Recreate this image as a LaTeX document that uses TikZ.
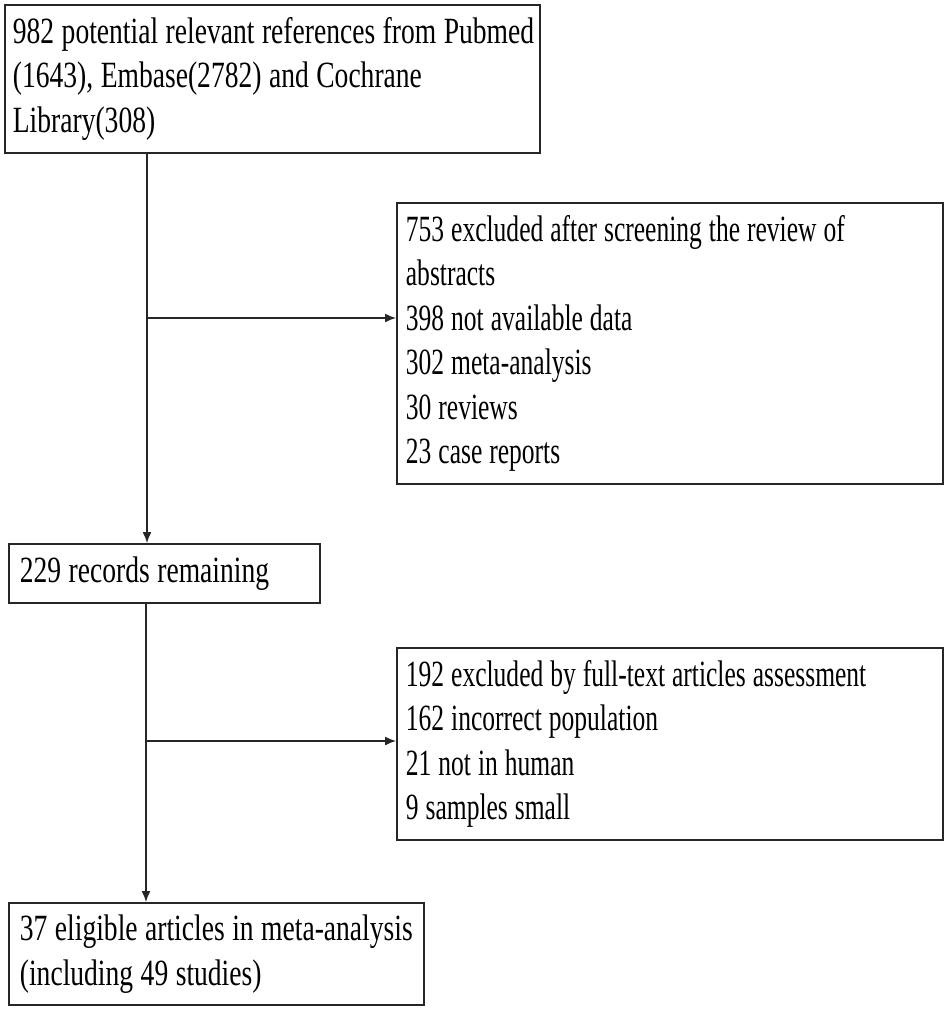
\documentclass[tikz,border=0pt]{standalone}
\usepackage{fontspec}
\setmainfont{Liberation Serif}[FakeStretch=0.69]
\newfontfamily\widefnt{Liberation Serif}[FakeStretch=0.745]
\usetikzlibrary{arrows.meta}
\newcommand\myboxfont{\fontsize{37}{44.5}\selectfont}
\newcommand\mywidefont{\widefnt\fontsize{37}{44.5}\selectfont}
\newcommand\txl[1]{\mbox{\spaceskip=7pt\relax #1}}
\newcommand\txw[1]{\mbox{\spaceskip=7.5pt\relax #1}}
\begin{document}
\begin{tikzpicture}[x=1pt,y=-1pt,
  box/.style={draw=black!85, line width=1.8pt, anchor=north west, align=left,
    inner xsep=9pt, inner ysep=0pt, font=\myboxfont},
  wbox/.style={box, font=\mywidefont},
  conn/.style={draw=black!85, line width=1.4pt},
  arr/.style={conn, -{Latex[length=11pt,width=9pt]}}]
\useasboundingbox (0,0) rectangle (946,1015);
\node[wbox, minimum width=535pt, minimum height=148pt, text width=519pt, inner xsep=8pt] (b1) at (4,4)
  {\txw{982 potential relevant references from Pubmed}\\\txw{(1643), Embase(2782) and Cochrane}\\\txw{Library(308)}};
\node[box, minimum width=546pt, minimum height=281pt, text width=528pt] (b2) at (396,202)
  {\txl{753 excluded after screening the review of}\\\txl{abstracts}\\\txl{398 not available data}\\\txl{302 meta-analysis}\\\txl{30 reviews}\\\txl{23 case reports}};
\node[wbox, minimum width=311pt, minimum height=59pt, text width=289pt, inner xsep=11pt] (b3) at (8,543)
  {\txw{229 records remaining}};
\node[box, minimum width=546pt, minimum height=192pt, text width=528pt] (b4) at (396,647)
  {\txl{192 excluded by full-text articles assessment}\\\txl{162 incorrect population}\\\txl{21 not in human}\\\txl{9 samples small}};
\node[wbox, minimum width=415pt, minimum height=102pt, text width=393pt, inner xsep=11pt] (b5) at (8,902)
  {\txw{37 eligible articles in meta-analysis}\\\txw{(including 49 studies)}};
\coordinate (j1) at (147,318);
\coordinate (j2) at (146,741);
\draw[arr] (b1.south -| j1) -- (b3.north -| j1);
\draw[arr] (j1) -- (b2.west |- j1);
\draw[arr] (b3.south -| j2) -- (b5.north -| j2);
\draw[arr] (j2) -- (b4.west |- j2);
\end{tikzpicture}
\end{document}
